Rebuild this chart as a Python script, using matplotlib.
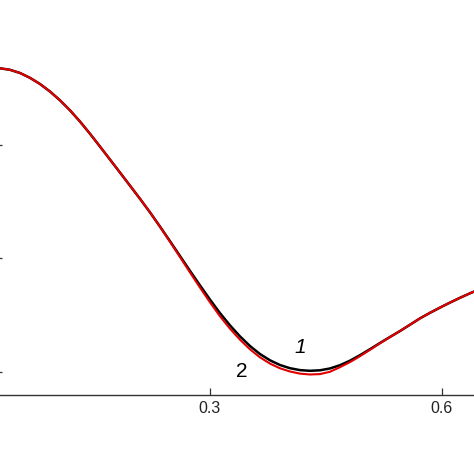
import numpy as np
import matplotlib
matplotlib.use("Agg")
import matplotlib.pyplot as plt

plt.rcParams['font.family'] = ['Liberation Sans', 'DejaVu Sans']

# abscissa
x = [0.0288, 0.0418, 0.0547, 0.0676, 0.0806, 0.0935, 0.1064, 0.1194, 0.1323, 0.1452,
     0.1581, 0.1711, 0.1840, 0.1969, 0.2099, 0.2228, 0.2357, 0.2487, 0.2616, 0.2745,
     0.2875, 0.3004, 0.3133, 0.3263, 0.3392, 0.3521, 0.3650, 0.3780, 0.3909, 0.4038,
     0.4168, 0.4297, 0.4426, 0.4555, 0.4685, 0.4814, 0.4943, 0.5073, 0.5202, 0.5331,
     0.5461, 0.5590, 0.5719, 0.5849, 0.5978, 0.6107, 0.6237, 0.6366, 0.6418]

# curve 1 (black)
y1 = [0.7352, 0.7325, 0.7269, 0.7184, 0.7075, 0.6943, 0.6788, 0.6611, 0.6414, 0.6199,
      0.5974, 0.5744, 0.5515, 0.5285, 0.5052, 0.4814, 0.4564, 0.4305, 0.4044, 0.3783,
      0.3526, 0.3276, 0.3038, 0.2821, 0.2627, 0.2458, 0.2317, 0.2206, 0.2123, 0.2067,
      0.2033, 0.2021, 0.2030, 0.2062, 0.2120, 0.2199, 0.2296, 0.2402, 0.2511, 0.2617,
      0.2722, 0.2833, 0.2945, 0.3043, 0.3135, 0.3223, 0.3308, 0.3387, 0.3417]

# curve 2 (red)
y2 = [0.7352, 0.7325, 0.7269, 0.7184, 0.7075, 0.6943, 0.6788, 0.6611, 0.6414, 0.6199,
      0.5974, 0.5744, 0.5515, 0.5285, 0.5052, 0.4814, 0.4559, 0.4294, 0.4026, 0.3755,
      0.3487, 0.3228, 0.2983, 0.2763, 0.2569, 0.2400, 0.2259, 0.2148, 0.2065, 0.2009,
      0.1971, 0.1956, 0.1963, 0.2004, 0.2085, 0.2174, 0.2278, 0.2391, 0.2506, 0.2615,
      0.2722, 0.2833, 0.2945, 0.3043, 0.3135, 0.3223, 0.3308, 0.3387, 0.3417]

xticks = [0.3, 0.6]
xticklabels = ['0.3', '0.6']
yticks = [0.2, 0.4, 0.6]

fig = plt.figure(figsize=(4.74, 4.74), dpi=100)
ax = fig.add_axes([-0.0106, 0.1667, 1.073, 0.8333])

ax.plot(x, y1, color='black', lw=1.8, solid_capstyle='round', solid_joinstyle='round')
ax.plot(x, y2, color='#e00000', lw=1.5, solid_capstyle='round', solid_joinstyle='round')

ax.text(0.4171, 0.2433, '1', fontsize=15, style='italic', ha='center', va='center')
ax.text(0.3418, 0.2005, '2', fontsize=15, ha='center', va='center')

ax.set_xlim(0.0224, 0.68)
ax.set_ylim(0.1595, 0.8555)
ax.set_xticks(xticks)
ax.set_xticklabels(xticklabels)
ax.set_yticks(yticks)
ax.set_yticklabels([])
ax.tick_params(direction='in', length=5, width=0.9, colors='#333333',
               labelsize=11.5, pad=4)
ax.tick_params(axis='x', labelcolor='#222222')

for s in ['top', 'right']:
    ax.spines[s].set_visible(False)
for s in ['left', 'bottom']:
    ax.spines[s].set_color('#333333')
    ax.spines[s].set_linewidth(1.0)

fig.savefig('out.png', dpi=100)
